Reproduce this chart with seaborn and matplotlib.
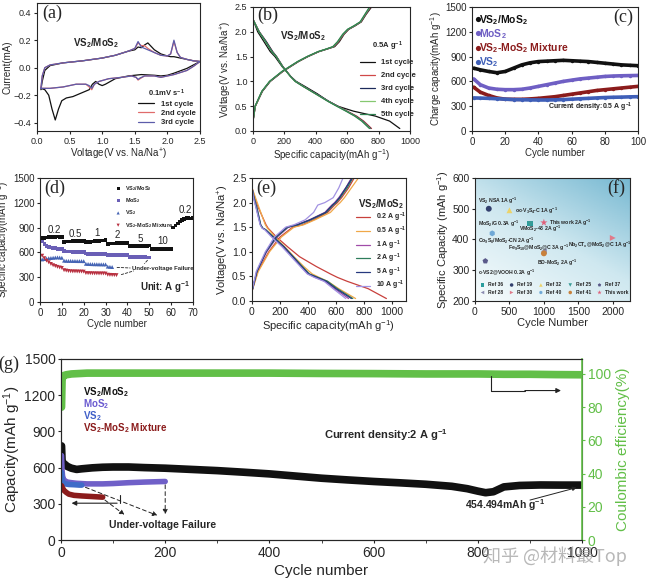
import numpy as np
import seaborn as sns
import matplotlib.pyplot as plt
from matplotlib.colors import LinearSegmentedColormap

sns.set_style("ticks")
plt.rcParams['font.family'] = ['Liberation Sans', 'DejaVu Sans']
plt.rcParams['mathtext.default'] = 'regular'
plt.rcParams['axes.linewidth'] = 0.8
plt.rcParams['xtick.major.size'] = 2.5
plt.rcParams['ytick.major.size'] = 2.5
plt.rcParams['xtick.major.pad'] = 1.5
plt.rcParams['ytick.major.pad'] = 1.5

# ---------------- data ----------------
# (a) CV, 0.1 mV/s
cv_v_up = [0.06, 0.08, 0.12, 0.2, 0.4, 0.7, 1.0, 1.2, 1.4, 1.5, 1.55, 1.6, 1.65, 1.7, 1.8, 1.9, 2.0, 2.05, 2.1, 2.15, 2.2, 2.3, 2.4, 2.5]
cv1_i_up = [-0.16, -0.1, -0.02, 0.015, 0.035, 0.05, 0.07, 0.09, 0.12, 0.13, 0.15, 0.145, 0.165, 0.18, 0.13, 0.1, 0.085, 0.08, 0.08, 0.075, 0.07, 0.06, 0.05, 0.045]
cv2_i_up = [-0.15, -0.06, 0.0, 0.02, 0.035, 0.05, 0.07, 0.09, 0.12, 0.14, 0.18, 0.16, 0.16, 0.14, 0.11, 0.09, 0.085, 0.1, 0.19, 0.11, 0.075, 0.06, 0.05, 0.045]
cv3_i_up = [-0.15, -0.06, 0.0, 0.02, 0.035, 0.05, 0.07, 0.09, 0.12, 0.14, 0.19, 0.15, 0.14, 0.13, 0.11, 0.09, 0.085, 0.1, 0.2, 0.11, 0.075, 0.06, 0.05, 0.045]
cv_v_dn = [2.5, 2.4, 2.3, 2.1, 2.0, 1.9, 1.8, 1.65, 1.58, 1.55, 1.52, 1.45, 1.3, 1.1, 0.95, 0.88, 0.84, 0.8, 0.75, 0.6, 0.4, 0.2, 0.06]
cv2_i_dn = [0.045, 0.01, -0.02, -0.05, -0.06, -0.07, -0.06, -0.06, -0.08, -0.09, -0.07, -0.06, -0.07, -0.08, -0.1, -0.12, -0.16, -0.14, -0.12, -0.12, -0.14, -0.15, -0.15]
cv3_i_dn = [0.045, 0.01, -0.02, -0.05, -0.06, -0.07, -0.06, -0.06, -0.075, -0.085, -0.07, -0.06, -0.07, -0.08, -0.1, -0.12, -0.15, -0.13, -0.12, -0.12, -0.14, -0.15, -0.15]
cv1_v_dn = [2.5, 2.4, 2.3, 2.1, 2.0, 1.9, 1.8, 1.6, 1.4, 1.2, 1.05, 1.0, 0.95, 0.9, 0.85, 0.8, 0.7, 0.55, 0.45, 0.38, 0.33, 0.28, 0.23, 0.18, 0.12, 0.06]
cv1_i_dn = [0.045, 0.02, -0.005, -0.04, -0.055, -0.06, -0.055, -0.05, -0.06, -0.08, -0.12, -0.13, -0.12, -0.1, -0.12, -0.16, -0.18, -0.21, -0.22, -0.24, -0.3, -0.38, -0.3, -0.2, -0.16, -0.15]

# (b) charge/discharge at 0.5 A/g
b_v_dis = [2.25, 2.0, 1.8, 1.6, 1.5, 1.3, 1.1, 1.0, 0.9, 0.75, 0.6, 0.5, 0.4, 0.3, 0.2, 0.05]
b_dis = [
    [0, 30, 70, 110, 140, 185, 240, 275, 330, 410, 480, 540, 640, 780, 870, 935],
    [0, 40, 85, 125, 150, 190, 240, 270, 320, 400, 480, 540, 600, 660, 705, 755],
    [0, 40, 85, 125, 150, 190, 240, 272, 322, 402, 482, 540, 598, 655, 700, 750],
    [0, 38, 80, 120, 148, 188, 238, 270, 320, 398, 478, 535, 595, 650, 695, 745],
    [0, 38, 80, 120, 148, 188, 238, 268, 318, 398, 476, 533, 592, 648, 692, 742],
]
b_v_chg = [0.2, 0.5, 0.8, 1.0, 1.2, 1.4, 1.5, 1.6, 1.65, 1.7, 1.8, 1.95, 2.05, 2.12, 2.2, 2.35, 2.5]
b_chg = [
    [0, 15, 60, 110, 190, 290, 350, 420, 470, 520, 550, 580, 610, 650, 690, 720, 755],
    [0, 15, 58, 108, 188, 288, 348, 418, 468, 515, 545, 578, 608, 648, 688, 718, 750],
    [0, 14, 57, 107, 186, 286, 346, 416, 466, 512, 542, 575, 606, 646, 686, 716, 748],
    [0, 14, 57, 106, 185, 285, 345, 415, 465, 510, 540, 573, 604, 644, 684, 714, 745],
    [0, 13, 56, 105, 184, 284, 344, 414, 464, 508, 538, 571, 602, 642, 682, 712, 742],
]
b_cycles = ['1st cycle', '2nd cycle', '3rd cycle', '4th cycle', '5th cycle']

# (c) cycling at 0.5 A/g
c_cycle = [1, 5, 10, 15, 20, 25, 30, 35, 40, 45, 50, 55, 60, 65, 70, 75, 80, 85, 90, 95, 100]
c_vs2mos2 = [760, 740, 720, 705, 720, 760, 800, 825, 840, 845, 850, 855, 850, 845, 840, 830, 820, 810, 800, 795, 790]
c_mos2 = [630, 560, 520, 505, 500, 500, 505, 520, 540, 560, 580, 600, 615, 630, 640, 650, 660, 665, 668, 670, 672]
c_mix = [530, 470, 430, 400, 385, 383, 383, 388, 395, 405, 415, 430, 445, 460, 475, 490, 500, 510, 520, 530, 540]
c_vs2 = [400, 398, 395, 390, 385, 380, 378, 376, 375, 375, 377, 380, 385, 390, 395, 400, 405, 408, 410, 413, 415]

# (d) rate capability
d_vs2mos2 = [775, 778, 780, 783, 785, 788, 790, 792, 788, 785, 728, 730, 732, 733, 735, 735, 736, 737, 738, 738,
             720, 725, 728, 732, 735, 738, 740, 742, 745, 748, 705, 706, 708, 708, 710, 710, 710, 712, 712, 712,
             675, 676, 677, 678, 678, 680, 680, 680, 681, 682, 645, 645, 644, 644, 643, 643, 642, 642, 642, 641,
             900, 925, 950, 975, 995, 1005, 1015, 1020, 1010, 1020]
d_mos2 = [730, 700, 680, 668, 660, 655, 650, 645, 642, 640, 615, 612, 610, 610, 608, 608, 607, 607, 606, 606,
          585, 583, 582, 582, 581, 580, 580, 580, 579, 579, 570, 570, 569, 569, 568, 568, 568, 567, 567, 567,
          545, 544, 543, 543, 542, 542, 541, 541, 540, 540]
d_vs2 = [515, 520, 525, 530, 532, 535, 538, 540, 538, 535, 500, 498, 497, 497, 496, 496, 495, 495, 495, 494,
         462, 460, 459, 458, 457, 457, 456, 456, 455, 455, 428, 425, 423]
d_mix = [560, 530, 500, 480, 460, 445, 435, 425, 418, 412, 385, 380, 375, 372, 370, 370, 369, 368, 368, 367,
         350, 349, 348, 347, 346, 346, 345, 345, 345, 344, 330, 328, 327, 326, 325]
d_rates = ['0.2', '0.5', '1', '2', '5', '10', '0.2']

# (e) charge/discharge at different rates
e_rates = ['0.2 A g$^{-1}$', '0.5 A g$^{-1}$', '1 A g$^{-1}$', '2 A g$^{-1}$', '5 A g$^{-1}$', '10 A g$^{-1}$']
e_v_dis = [2.3, 2.1, 1.9, 1.55, 1.48, 1.45, 1.3, 1.1, 0.9, 0.7, 0.55, 0.48, 0.4, 0.25, 0.05]
e_dis = [
    [0, 20, 45, 100, 115, 125, 175, 255, 340, 460, 560, 610, 680, 830, 960],
    [0, 25, 50, 95, 110, 120, 165, 235, 300, 370, 430, 480, 540, 620, 740],
    [0, 15, 35, 62, 75, 95, 150, 225, 290, 350, 400, 450, 520, 590, 690],
    [0, 15, 35, 62, 78, 98, 155, 230, 295, 360, 410, 470, 540, 610, 720],
    [0, 12, 30, 60, 75, 95, 150, 228, 292, 355, 405, 465, 530, 600, 710],
    [0, 10, 28, 58, 72, 90, 140, 215, 280, 345, 395, 445, 515, 580, 670],
]
e_v_chg = [0.2, 0.6, 1.0, 1.3, 1.5, 1.55, 1.65, 1.8, 1.95, 2.0, 2.1, 2.3, 2.5]
e_chg = [
    [0, 40, 120, 200, 290, 360, 440, 540, 590, 610, 640, 690, 730],
    [0, 45, 125, 210, 300, 370, 450, 560, 610, 630, 660, 710, 760],
    [0, 35, 105, 180, 260, 320, 410, 520, 570, 590, 620, 670, 710],
    [0, 35, 100, 175, 255, 330, 420, 530, 580, 600, 630, 680, 720],
    [0, 35, 100, 170, 250, 325, 415, 525, 575, 595, 625, 670, 715],
    [0, 30, 95, 160, 240, 300, 380, 440, 470, 520, 580, 620, 650],
]

# (f) comparison with literature
f_refs = ['Ref 36', 'Ref 28', 'Ref 19', 'Ref 30', 'Ref 32', 'Ref 40', 'Ref 25', 'Ref 41', 'Ref 37', 'This work']
f_cycles = [800, 1000, 200, 2000, 500, 250, 800, 1000, 150, 1000]
f_caps = [452, 362, 500, 405, 495, 420, 450, 355, 330, 455]

# (g) long cycling at 2 A/g
g_cycle = [1, 2, 3, 5, 8, 12, 20, 30, 40, 60, 80, 100, 130, 160, 200, 250, 300, 350, 400, 450, 500, 550,
           600, 650, 700, 750, 780, 800, 815, 830, 850, 880, 920, 960, 1000]
g_vs2mos2 = [780, 660, 645, 635, 625, 610, 595, 585, 590, 598, 603, 605, 605, 600, 595, 585, 575, 562, 548, 530,
             512, 498, 485, 474, 462, 445, 425, 405, 392, 400, 440, 452, 456, 455, 455]
g_mos2_cycle = [1, 2, 3, 5, 8, 12, 20, 30, 50, 80, 100, 130, 160, 200]
g_mos2 = [700, 580, 530, 500, 490, 480, 475, 470, 465, 465, 468, 475, 480, 485]
g_vs2_cycle = [1, 2, 4, 8, 15, 25, 35, 40]
g_vs2 = [560, 500, 475, 465, 460, 458, 455, 455]
g_mix_cycle = [1, 3, 6, 10, 15, 25, 40, 60, 80]
g_mix = [450, 430, 410, 395, 380, 370, 365, 360, 355]
g_ce_cycle = [1, 2, 3, 5, 10, 20, 50, 100, 200, 300, 400, 500, 600, 700, 800, 850, 900, 950, 1000]
g_ce = [80, 96, 98, 99, 99.5, 100, 100.5, 100.5, 100.5, 100.5, 100.5, 100.3, 100.2, 100, 100, 99.8, 99.8, 99.6, 99.5]

# ---------------- figure ----------------
W, H = 650, 585
fig = plt.figure(figsize=(6.5, 5.85), dpi=100)


def box(l, t, r, b):
    return [l / W, 1 - b / H, (r - l) / W, (b - t) / H]


def panel_label(ax, s, x, y, ha='left'):
    ax.text(x, y, s, transform=ax.transAxes, fontsize=13, family='Liberation Serif', ha=ha, va='top')


def style(ax, tick, lab):
    ax.tick_params(labelsize=tick, width=0.8)
    ax.xaxis.label.set_size(lab)
    ax.yaxis.label.set_size(lab)
    ax.xaxis.labelpad = 1
    ax.yaxis.labelpad = 1


def bold_legend(leg):
    for t in leg.get_texts():
        t.set_fontweight('bold')
    if leg.get_title() is not None:
        leg.get_title().set_fontweight('bold')


BLACK, PURPLE, BLUE, DRED = '#111111', '#6f5fc4', '#3f5fb8', '#8b1c1c'

# (a)
ax = fig.add_axes(box(37, 3, 200, 131))
a_cols = ['#111111', '#e06b6b', '#5c5caa']
sns.lineplot(x=cv_v_up + cv1_v_dn, y=cv1_i_up + cv1_i_dn, sort=False, estimator=None, color=a_cols[0], lw=0.9, ax=ax, label='1st cycle')
sns.lineplot(x=cv_v_up + cv_v_dn, y=cv2_i_up + cv2_i_dn, sort=False, estimator=None, color=a_cols[1], lw=0.9, ax=ax, label='2nd cycle')
sns.lineplot(x=cv_v_up + cv_v_dn, y=cv3_i_up + cv3_i_dn, sort=False, estimator=None, color=a_cols[2], lw=0.9, ax=ax, label='3rd cycle')
ax.set_xlim(0, 2.5)
ax.set_ylim(-0.46, 0.47)
ax.set_xticks([0, 0.5, 1.0, 1.5, 2.0, 2.5])
ax.set_yticks([-0.4, -0.2, 0.0, 0.2, 0.4])
ax.set_xlabel('Voltage(V vs. Na/Na$^{+}$)')
ax.set_ylabel('Current(mA)')
style(ax, 6.5, 7)
leg = ax.legend(loc='lower right', title='0.1mV s$^{-1}$', fontsize=5.5, title_fontsize=5.5, frameon=False,
                handlelength=2.2, labelspacing=0.25, borderaxespad=0.2)
bold_legend(leg)
ax.text(0.55, 0.18, 'VS$_2$/MoS$_2$', fontsize=7, fontweight='bold', va='center')
panel_label(ax, '(a)', 0.03, 0.99)

# (b)
ax = fig.add_axes(box(253, 7, 410, 131))
b_cols = ['#111111', '#d04848', '#1c2a5a', '#86c870', '#2f8050']
for k in range(5):
    sns.lineplot(x=b_dis[k], y=b_v_dis, sort=False, estimator=None, color=b_cols[k], lw=0.9, ax=ax, label=b_cycles[k])
    sns.lineplot(x=b_chg[k], y=b_v_chg, sort=False, estimator=None, color=b_cols[k], lw=0.9, ax=ax)
ax.set_xlim(0, 1000)
ax.set_ylim(0, 2.5)
ax.set_xticks([0, 200, 400, 600, 800, 1000])
ax.set_yticks([0, 0.5, 1.0, 1.5, 2.0, 2.5])
ax.set_xlabel('Specific capacity(mAh g$^{-1}$)')
ax.set_ylabel('Voltage(V vs. Na/Na$^{+}$)')
style(ax, 6.5, 7)
leg = ax.legend(loc='upper left', bbox_to_anchor=(0.66, 0.76), title='0.5A g$^{-1}$', fontsize=5.5, title_fontsize=5.5,
                frameon=False, handlelength=2.0, labelspacing=0.75, borderaxespad=0)
bold_legend(leg)
ax.text(170, 1.92, 'VS$_2$/MoS$_2$', fontsize=7, fontweight='bold', va='center')
panel_label(ax, '(b)', 0.03, 1.0)

# (c)
ax = fig.add_axes(box(472, 7, 638, 131))
for vals, col, lab in [(c_vs2mos2, BLACK, 'VS$_2$/MoS$_2$'), (c_mos2, PURPLE, 'MoS$_2$'),
                       (c_mix, DRED, 'VS$_2$-MoS$_2$ Mixture'), (c_vs2, BLUE, 'VS$_2$')]:
    sns.lineplot(x=c_cycle, y=vals, color=col, lw=2.6, marker='o', markersize=2.5, markeredgewidth=0, ax=ax, label=lab)
ax.set_xlim(0, 100)
ax.set_ylim(0, 1500)
ax.set_xticks([0, 20, 40, 60, 80, 100])
ax.set_yticks([0, 300, 600, 900, 1200, 1500])
ax.set_xlabel('Cycle number')
ax.set_ylabel('Charge capacity(mAh g$^{-1}$)')
style(ax, 7, 7)
leg = ax.legend(loc='upper left', fontsize=7.5, frameon=False, handlelength=0, handletextpad=0.15,
                labelspacing=0.05, borderaxespad=0.15, labelcolor='linecolor', markerscale=1.5)
bold_legend(leg)
ax.text(0.97, 0.17, 'Current density:0.5 A g$^{-1}$', transform=ax.transAxes, fontsize=5, fontweight='bold', ha='right')
panel_label(ax, '(c)', 0.97, 0.99, ha='right')

# (d)
ax = fig.add_axes(box(40, 178, 193, 302))
sns.scatterplot(x=list(range(1, len(d_vs2mos2) + 1)), y=d_vs2mos2, marker='s', s=7, color='#111111', edgecolor='none', ax=ax, label='VS$_2$/MoS$_2$')
sns.scatterplot(x=list(range(1, len(d_mos2) + 1)), y=d_mos2, marker='s', s=7, color='#6a5fb6', edgecolor='none', ax=ax, label='MoS$_2$')
sns.scatterplot(x=list(range(1, len(d_vs2) + 1)), y=d_vs2, marker='^', s=8, color='#4564b4', edgecolor='none', ax=ax, label='VS$_2$')
sns.scatterplot(x=list(range(1, len(d_mix) + 1)), y=d_mix, marker='v', s=8, color='#b83040', edgecolor='none', ax=ax, label='VS$_2$-MoS$_2$ Mixture')
ax.set_xlim(0, 70)
ax.set_ylim(0, 1500)
ax.set_xticks(range(0, 71, 10))
ax.set_yticks([0, 300, 600, 900, 1200, 1500])
ax.set_xlabel('Cycle number')
ax.set_ylabel('Specific capacity(mAh g$^{-1}$)')
style(ax, 7, 7)
ax.yaxis.set_label_coords(-0.19, 0.5)
leg = ax.legend(loc='upper left', bbox_to_anchor=(0.46, 0.97), fontsize=4, frameon=False, handletextpad=0.2,
                labelspacing=0.6, borderaxespad=0, markerscale=0.8)
bold_legend(leg)
for r, x, y in zip(d_rates, [6.5, 16, 26, 35.5, 46, 56, 66.5], [870, 820, 830, 810, 765, 735, 1110]):
    ax.text(x, y, r, fontsize=7, ha='center', va='center')
ax.text(56, 410, 'Under-voltage Failure', fontsize=4.3, fontweight='bold', va='center', ha='center')
dash = dict(arrowstyle='-', ls=(0, (3, 2)), lw=0.6, color='#222222')
ax.annotate('', xy=(42.5, 410), xytext=(34, 420), arrowprops=dash)
ax.annotate('', xy=(44, 385), xytext=(36, 322), arrowprops=dash)
ax.annotate('', xy=(47, 440), xytext=(50, 530), arrowprops=dash)
ax.text(69, 180, 'Unit: A g$^{-1}$', fontsize=7, fontweight='bold', ha='right', va='center')
panel_label(ax, '(d)', 0.03, 0.99)

# (e)
ax = fig.add_axes(box(252, 178, 406, 301))
e_cols = ['#c8403c', '#f0a848', '#a04ca8', '#2e7d5b', '#26387e', '#a292e2']
for k in range(6):
    sns.lineplot(x=e_dis[k], y=e_v_dis, sort=False, estimator=None, color=e_cols[k], lw=0.9, ax=ax, label=e_rates[k])
    sns.lineplot(x=e_chg[k], y=e_v_chg, sort=False, estimator=None, color=e_cols[k], lw=0.9, ax=ax)
ax.set_xlim(0, 1100)
ax.set_ylim(0, 2.5)
ax.set_xticks([0, 200, 400, 600, 800, 1000])
ax.set_yticks([0, 0.5, 1.0, 1.5, 2.0, 2.5])
ax.set_xlabel('Specific capacity(mAh g$^{-1}$)')
ax.set_ylabel('Voltage(V vs. Na/Na$^{+}$)')
style(ax, 7.5, 8)
leg = ax.legend(loc='upper left', bbox_to_anchor=(0.66, 0.87), title='VS$_2$/MoS$_2$', fontsize=5, title_fontsize=7,
                frameon=False, handlelength=2.0, handleheight=0.5, labelspacing=0.05, borderaxespad=0)
bold_legend(leg)
panel_label(ax, '(e)', 0.03, 0.99)

# (f)
ax = fig.add_axes(box(475, 178, 630, 301))
bg = LinearSegmentedColormap.from_list('bg', ['#f6fbfc', '#cfe8f0', '#78b9d2'])
grad = np.add.outer(np.linspace(0, 0.65, 60), np.linspace(0, 0.45, 60))
ax.imshow(grad, extent=[0, 2250, 200, 600], origin='lower', aspect='auto', cmap=bg, vmin=0, vmax=1.1, zorder=0)
f_marks = ['s', '<', 'o', '>', '^', 'h', 'v', 'o', 'p', '*']
f_cols = ['#2a9d9d', '#8a8ab0', '#33406e', '#e07a8a', '#ecd36a', '#6fa8d6', '#3a9c96', '#c8813c', '#5a5a8a', '#e0607a']
for k in range(len(f_refs)):
    sns.scatterplot(x=[f_cycles[k]], y=[f_caps[k]], marker=f_marks[k], color=f_cols[k], s=18 if f_marks[k] != '*' else 30,
                    edgecolor='none', ax=ax, label=f_refs[k], zorder=3)
ax.set_xlim(0, 2250)
ax.set_ylim(200, 600)
ax.set_xticks([0, 500, 1000, 1500, 2000])
ax.set_yticks([200, 300, 400, 500, 600])
ax.set_xlabel('Cycle Number')
ax.set_ylabel('Specific Capacity (mAh g$^{-1}$)')
style(ax, 7.5, 8)
leg = ax.legend(loc='lower left', bbox_to_anchor=(0.0, 0.03), ncol=5, fontsize=3.6, frameon=False, handletextpad=0.1,
                columnspacing=0.7, labelspacing=0.5, borderaxespad=0.1, markerscale=0.6)
bold_legend(leg)
for s, x, y in [('VS$_2$ NSA 1A g$^{-1}$', 40, 527), ('oc-V$_3$S$_4$-C 1A g$^{-1}$', 580, 494),
                ('MoS$_2$/G 0.3A g$^{-1}$', 40, 450), ('This work 2A g$^{-1}$', 1080, 454),
                ('VMoS$_2$-43 2A g$^{-1}$', 640, 436), ('Co$_9$S$_8$/MoS$_2$-CN 2A g$^{-1}$', 40, 395),
                ('Fe$_9$S$_{10}$@MoS$_2$@C 3A g$^{-1}$', 480, 372), ('Nb$_2$CT$_x$@MoS$_2$@C 1A g$^{-1}$', 1345, 381),
                ('BD-MoS$_2$ 2A g$^{-1}$', 900, 324), ('c-VS2@VOOH 0.2A g$^{-1}$', 40, 290)]:
    ax.text(x, y, s, fontsize=3.7, fontweight='bold', va='center', zorder=4)
panel_label(ax, '(f)', 0.97, 0.99, ha='right')

# (g)
ax = fig.add_axes(box(61, 359, 582, 540))
GREEN = '#62bf48'
ax2 = ax.twinx()
sns.lineplot(x=g_ce_cycle, y=g_ce, color=GREEN, lw=5.5, ax=ax2)
sns.lineplot(x=g_cycle, y=g_vs2mos2, color=BLACK, lw=5.5, ax=ax)
sns.lineplot(x=g_mos2_cycle, y=g_mos2, color='#7060c8', lw=4, ax=ax)
sns.lineplot(x=g_vs2_cycle, y=g_vs2, color='#3f6cc8', lw=4, ax=ax)
sns.lineplot(x=g_mix_cycle, y=g_mix, color=DRED, lw=4, ax=ax)
ax.set_xlim(0, 1000)
ax.set_ylim(0, 1500)
ax.set_xticks([0, 200, 400, 600, 800, 1000])
ax.set_xticks(range(100, 1000, 200), minor=True)
ax.set_yticks([0, 300, 600, 900, 1200, 1500])
ax.set_xlabel('Cycle number')
ax.set_ylabel('Capacity(mAh g$^{-1}$)')
style(ax, 10, 11)
ax.xaxis.labelpad = 3
ax2.set_ylim(0, 109)
ax2.set_yticks([0, 20, 40, 60, 80, 100])
ax2.set_ylabel('Coulombic efficiency(%)', color=GREEN)
ax2.tick_params(axis='y', colors=GREEN, labelsize=10, width=0.8, pad=1.5)
ax2.yaxis.label.set_size(11)
ax2.spines['right'].set_color(GREEN)
ax2.spines['right'].set_linewidth(1.2)

for s, col, y in [('VS$_2$/MoS$_2$', BLACK, 1225), ('MoS$_2$', '#6a5ad0', 1125),
                  ('VS$_2$', '#3f5fc8', 1025), ('VS$_2$-MoS$_2$ Mixture', DRED, 925)]:
    ax.text(42, y, s, color=col, fontsize=7, fontweight='bold', va='center')
ax.text(505, 870, 'Current density:2 A g$^{-1}$', fontsize=8, fontweight='bold', va='center')
ax.text(775, 290, '454.494mAh g$^{-1}$', fontsize=7.5, fontweight='bold', va='center')
ax.annotate('', xy=(995, 440), xytext=(895, 325),
            arrowprops=dict(arrowstyle='-|>', lw=0.7, color='#222222', mutation_scale=6))
ax2.plot([826, 826, 890], [99, 90, 90], color='#222222', lw=0.8)
ax2.annotate('', xy=(965, 90), xytext=(885, 90),
             arrowprops=dict(arrowstyle='-|>', lw=0.8, color='#222222', mutation_scale=7))
ax.annotate('', xy=(15, 305), xytext=(113, 305),
            arrowprops=dict(arrowstyle='-|>', lw=0.8, color='#222222', mutation_scale=7))
ax.plot([113, 113], [305, 375], color='#222222', lw=0.8)
gdash = dict(arrowstyle='-|>', ls=(0, (4, 3)), lw=0.7, color='#222222', mutation_scale=7)
ax.annotate('', xy=(126, 195), xytext=(80, 345), arrowprops=gdash)
ax.annotate('', xy=(190, 195), xytext=(42, 445), arrowprops=gdash)
ax.annotate('', xy=(200, 190), xytext=(200, 480), arrowprops=gdash)
ax.text(195, 125, 'Under-voltage Failure', fontsize=7.5, fontweight='bold', ha='center', va='center')
ax.text(-0.12, 1.02, '(g)', transform=ax.transAxes, fontsize=13, family='Liberation Serif', ha='left', va='top')

fig.text(555 / W, 1 - 556 / H, '知乎 @材料最Top', fontsize=13, color='#9a9a9a', alpha=0.7,
         family=['Noto Sans CJK SC', 'DejaVu Sans'], ha='center', va='center')

fig.savefig('out.png', dpi=100)
